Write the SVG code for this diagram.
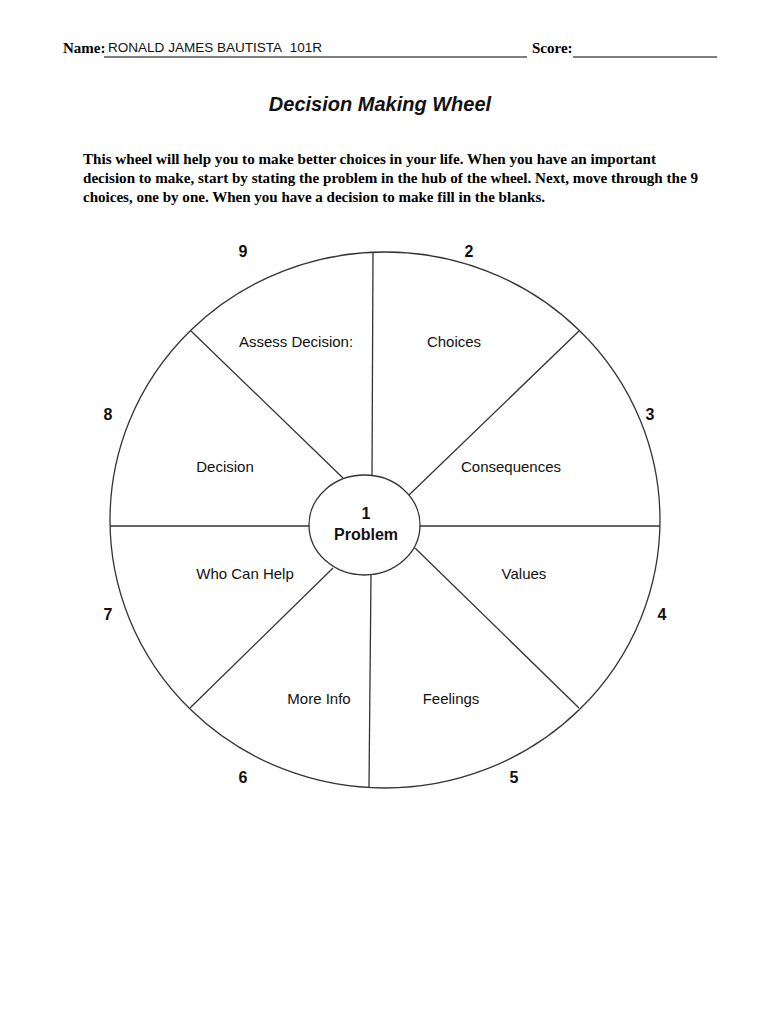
<svg xmlns="http://www.w3.org/2000/svg" width="768" height="1024" viewBox="0 0 768 1024">
<style>
.ser{font-family:"Liberation Serif","DejaVu Serif",serif;font-weight:bold;fill:#000}
.hdr{font-size:15px}
.para{font-size:14px}
.san{font-family:"Liberation Sans",Arial,sans-serif;fill:#111}
.lab{font-size:15px;text-anchor:middle}
.num{font-size:16px;font-weight:bold;text-anchor:middle}
.ln{stroke:#333;stroke-width:1.3;fill:none}
</style>
<rect width="768" height="1024" fill="#fff"/>
<g id="header">
<text class="ser hdr" x="63" y="53">Name:</text>
<text class="san" x="108" y="52" font-size="13" textLength="214" lengthAdjust="spacingAndGlyphs">RONALD JAMES BAUTISTA&#160; 101R</text>
<line x1="104" y1="57" x2="527" y2="57" stroke="#000" stroke-width="1.2"/>
<text class="ser hdr" x="532" y="53">Score:</text>
<line x1="573" y1="57" x2="717" y2="57" stroke="#000" stroke-width="1.2"/>
</g>
<text class="san" x="380" y="111" font-size="20" font-weight="bold" font-style="italic" text-anchor="middle" fill="#000">Decision Making Wheel</text>
<g id="intro" class="ser para">
<text x="83" y="164" textLength="573" lengthAdjust="spacingAndGlyphs">This wheel will help you to make better choices in your life. When you have an important</text>
<text x="83" y="183" textLength="615" lengthAdjust="spacingAndGlyphs">decision to make, start by stating the problem in the hub of the wheel. Next, move through the 9</text>
<text x="83" y="202" textLength="462" lengthAdjust="spacingAndGlyphs">choices, one by one. When you have a decision to make fill in the blanks.</text>
</g>
<g id="connectors">
<line class="ln" x1="373" y1="252" x2="372" y2="476"/>
<line class="ln" x1="371" y1="575" x2="369" y2="787"/>
<line class="ln" x1="110" y1="526" x2="309" y2="526"/>
<line class="ln" x1="420" y1="526" x2="660" y2="526"/>
<line class="ln" x1="191" y1="331" x2="343" y2="478"/>
<line class="ln" x1="579" y1="331" x2="409" y2="495"/>
<line class="ln" x1="190" y1="708" x2="333" y2="568"/>
<line class="ln" x1="579" y1="708" x2="415" y2="548"/>
</g>
<g id="wheel">
<ellipse class="ln" cx="385" cy="520" rx="275" ry="268"/>
</g>
<g id="hub">
<ellipse class="ln" cx="364.5" cy="525" rx="55.5" ry="50" fill="#fff"/>
<text class="san num" x="366" y="519" font-weight="normal">1</text>
<text class="san num" x="366" y="540">Problem</text>
</g>
<g id="n2"><text class="san num" x="469" y="257">2</text><text class="san lab" x="454" y="347">Choices</text></g>
<g id="n3"><text class="san num" x="650" y="420">3</text><text class="san lab" x="511" y="472">Consequences</text></g>
<g id="n4"><text class="san num" x="662" y="620">4</text><text class="san lab" x="524" y="579">Values</text></g>
<g id="n5"><text class="san num" x="514" y="783">5</text><text class="san lab" x="451" y="704">Feelings</text></g>
<g id="n6"><text class="san num" x="243" y="783">6</text><text class="san lab" x="319" y="704">More Info</text></g>
<g id="n7"><text class="san num" x="108" y="620">7</text><text class="san lab" x="245" y="579">Who Can Help</text></g>
<g id="n8"><text class="san num" x="108" y="420">8</text><text class="san lab" x="225" y="472">Decision</text></g>
<g id="n9"><text class="san num" x="243" y="257">9</text><text class="san lab" x="296" y="347">Assess Decision:</text></g>
</svg>
